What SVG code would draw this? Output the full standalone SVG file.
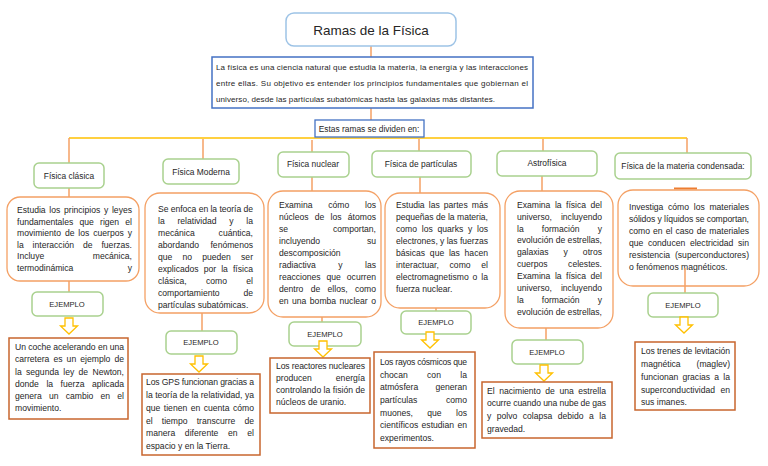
<svg xmlns="http://www.w3.org/2000/svg" width="768" height="466" viewBox="0 0 768 466">
<style>
text{font-family:"Liberation Sans",Arial,sans-serif;fill:#262626;}
.t{font-size:8.6px;}
.i{font-size:8px;}
.h{font-size:8.4px;text-anchor:middle;}
.e{font-size:7.6px;text-anchor:middle;}
.hdr{fill:#fff;stroke:#a9d18e;stroke-width:1.5;}
.ds{fill:#fff;stroke:#f4a064;stroke-width:1.3;}
.ex{fill:#fff;stroke:#c8662e;stroke-width:1.5;}
.ln{stroke:#f4a064;stroke-width:1.5;fill:none;}
.arr{fill:#fff;stroke:#ffc000;stroke-width:1.3;}
</style>
<defs>
<path id="dn" d="M-4,0 H4 V8 H8.5 L0,16 L-8.5,8 H-4 Z"/>
</defs>
<rect width="768" height="466" fill="#fff"/>

<g id="connectors">
<line class="ln" x1="371" y1="46" x2="371" y2="57"/>
<line class="ln" x1="371" y1="108" x2="371" y2="120"/>
<line x1="69" y1="138" x2="687" y2="138" stroke="#ffc000" stroke-width="1.5"/>
<line class="ln" x1="69" y1="138" x2="69" y2="163"/>
<line class="ln" x1="203" y1="139" x2="203" y2="159"/>
<line class="ln" x1="312" y1="140" x2="312" y2="152"/>
<line class="ln" x1="419" y1="139" x2="419" y2="151"/>
<line class="ln" x1="543" y1="139" x2="543" y2="151"/>
<line class="ln" x1="687" y1="138" x2="687" y2="153"/>
<line class="ln" x1="69" y1="188" x2="69" y2="197"/>
<line class="ln" x1="312" y1="177" x2="312" y2="191"/>
<line class="ln" x1="420" y1="177" x2="420" y2="193"/>
<line class="ln" x1="542" y1="176" x2="542" y2="191"/>
<line x1="674" y1="188.5" x2="697" y2="188.5" stroke="#ed7d31" stroke-width="2"/>
<line class="ln" x1="69" y1="281" x2="69" y2="292"/>
<line class="ln" x1="202" y1="313" x2="202" y2="331"/>
<line class="ln" x1="322" y1="317" x2="322" y2="322"/>
<line class="ln" x1="436" y1="308" x2="436" y2="311"/>
<line class="ln" x1="546" y1="323" x2="546" y2="340"/>
</g>

<g id="title">
<rect x="286" y="13" width="170" height="33" rx="8" fill="#fff" stroke="#9dc3e6" stroke-width="1.5"/>
<text x="371" y="35" style="font-size:13.5px;text-anchor:middle">Ramas de la Física</text>
</g>

<g id="intro">
<rect x="212" y="57" width="321" height="51" fill="#fff" stroke="#4472c4" stroke-width="1.5"/>
<text class="i" x="216" y="70" textLength="312" lengthAdjust="spacing">La física es una ciencia natural que estudia la materia, la energía y las interacciones</text>
<text class="i" x="216" y="86" textLength="312" lengthAdjust="spacing">entre ellas. Su objetivo es entender los principios fundamentales que gobiernan el</text>
<text class="i" x="216" y="102" textLength="279" lengthAdjust="spacing">universo, desde las partículas subatómicas hasta las galaxias más distantes.</text>
</g>

<g id="divide">
<rect x="315" y="120" width="109" height="17" fill="#fff" stroke="#4472c4" stroke-width="1.3"/>
<text class="h" x="369" y="132">Estas ramas se dividen en:</text>
</g>

<!-- Column 1 -->
<g id="clasica">
<rect class="hdr" x="34" y="163" width="70" height="25" rx="5"/>
<text class="h" x="69" y="179">Física clásica</text>
</g>
<g id="clasica-desc">
<rect class="ds" x="7" y="197" width="132" height="84" rx="13"/>
<text class="t" x="17" y="213" style="word-spacing:1.3px" textLength="115" lengthAdjust="spacing">Estudia los principios y leyes</text>
<text class="t" x="17" y="225" style="word-spacing:3.8px" textLength="115" lengthAdjust="spacing">fundamentales que rigen el</text>
<text class="t" x="17" y="236" style="word-spacing:1.5px" textLength="115" lengthAdjust="spacing">movimiento de los cuerpos y</text>
<text class="t" x="17" y="248" style="word-spacing:6.5px" textLength="115" lengthAdjust="spacing">la interacción de fuerzas.</text>
<text class="t" x="17" y="259">Incluye</text><text class="t" x="132" y="259" text-anchor="end">mecánica,</text>
<text class="t" x="17" y="271">termodinámica</text><text class="t" x="132" y="271" text-anchor="end">y</text>
</g>
<g id="clasica-ej">
<rect class="hdr" x="32" y="292" width="71" height="24" rx="5"/>
<text class="e" x="67" y="307">EJEMPLO</text>
<use href="#dn" class="arr" transform="translate(69,318)"/>
</g>
<g id="clasica-ex">
<rect class="ex" x="9" y="338" width="119" height="81"/>
<text class="t" x="15" y="350" textLength="109" lengthAdjust="spacing">Un coche acelerando en una</text>
<text class="t" x="15" y="362" style="word-spacing:1.7px" textLength="109" lengthAdjust="spacing">carretera es un ejemplo de</text>
<text class="t" x="15" y="375" style="word-spacing:1.9px" textLength="109" lengthAdjust="spacing">la segunda ley de Newton,</text>
<text class="t" x="15" y="387" style="word-spacing:5.1px" textLength="109" lengthAdjust="spacing">donde la fuerza aplicada</text>
<text class="t" x="15" y="399" style="word-spacing:4.8px" textLength="109" lengthAdjust="spacing">genera un cambio en el</text>
<text class="t" x="15" y="411">movimiento.</text>
</g>

<!-- Column 2 -->
<g id="moderna">
<rect class="hdr" x="163" y="159" width="76" height="25" rx="5"/>
<text class="h" x="201" y="175">Física Moderna</text>
</g>
<g id="moderna-desc">
<rect class="ds" x="145" y="193" width="119" height="120" rx="15"/>
<text class="t" x="158" y="212" textLength="95" lengthAdjust="spacing">Se enfoca en la teoría de</text>
<text class="t" x="158" y="224" style="word-spacing:10.3px" textLength="95" lengthAdjust="spacing">la relatividad y la</text>
<text class="t" x="158" y="236">mecánica</text><text class="t" x="253" y="236" text-anchor="end">cuántica,</text>
<text class="t" x="158" y="248">abordando</text><text class="t" x="253" y="248" text-anchor="end">fenómenos</text>
<text class="t" x="158" y="260" style="word-spacing:7.8px" textLength="95" lengthAdjust="spacing">que no pueden ser</text>
<text class="t" x="158" y="272" style="word-spacing:2.7px" textLength="95" lengthAdjust="spacing">explicados por la física</text>
<text class="t" x="158" y="284" style="word-spacing:16.9px" textLength="95" lengthAdjust="spacing">clásica, como el</text>
<text class="t" x="158" y="296">comportamiento</text><text class="t" x="253" y="296" text-anchor="end">de</text>
<text class="t" x="158" y="308">partículas subatómicas.</text>
</g>
<g id="moderna-ej">
<rect class="hdr" x="166" y="331" width="71" height="23" rx="5"/>
<text class="e" x="201" y="345">EJEMPLO</text>
<use href="#dn" class="arr" transform="translate(199,356)"/>
</g>
<g id="moderna-ex">
<rect class="ex" x="142" y="374" width="118" height="81"/>
<text class="t" x="146" y="385" textLength="108" lengthAdjust="spacing">Los GPS funcionan gracias a</text>
<text class="t" x="146" y="398" textLength="108" lengthAdjust="spacing">la teoría de la relatividad, ya</text>
<text class="t" x="146" y="411" style="word-spacing:1.1px" textLength="108" lengthAdjust="spacing">que tienen en cuenta cómo</text>
<text class="t" x="146" y="424" style="word-spacing:6.7px" textLength="108" lengthAdjust="spacing">el tiempo transcurre de</text>
<text class="t" x="146" y="436" style="word-spacing:7.3px" textLength="108" lengthAdjust="spacing">manera diferente en el</text>
<text class="t" x="146" y="449">espacio y en la Tierra.</text>
</g>

<!-- Column 3 -->
<g id="nuclear">
<rect class="hdr" x="278" y="152" width="71" height="25" rx="5"/>
<text class="h" x="313" y="167">Física nuclear</text>
</g>
<g id="nuclear-desc">
<rect class="ds" x="268" y="191" width="113" height="126" rx="15"/>
<text class="t" x="279" y="208" style="word-spacing:13.4px" textLength="97" lengthAdjust="spacing">Examina cómo los</text>
<text class="t" x="279" y="220" style="word-spacing:3.8px" textLength="97" lengthAdjust="spacing">núcleos de los átomos</text>
<text class="t" x="279" y="232">se</text><text class="t" x="376" y="232" text-anchor="end">comportan,</text>
<text class="t" x="279" y="244">incluyendo</text><text class="t" x="376" y="244" text-anchor="end">su</text>
<text class="t" x="279" y="256">descomposición</text>
<text class="t" x="279" y="268" style="word-spacing:20px" textLength="97" lengthAdjust="spacing">radiactiva y las</text>
<text class="t" x="279" y="280" style="word-spacing:3.5px" textLength="97" lengthAdjust="spacing">reacciones que ocurren</text>
<text class="t" x="279" y="292" style="word-spacing:4.9px" textLength="97" lengthAdjust="spacing">dentro de ellos, como</text>
<text class="t" x="279" y="304" style="word-spacing:1.1px" textLength="97" lengthAdjust="spacing">en una bomba nuclear o</text>
</g>
<g id="nuclear-ej">
<rect class="hdr" x="289" y="322" width="72" height="24" rx="5"/>
<text class="e" x="325" y="337">EJEMPLO</text>
<use href="#dn" class="arr" transform="translate(323,341)"/>
</g>
<g id="nuclear-ex">
<rect class="ex" x="270" y="358" width="100" height="55"/>
<text class="t" x="276" y="369" textLength="89" lengthAdjust="spacing">Los reactores nucleares</text>
<text class="t" x="276" y="381">producen</text><text class="t" x="365" y="381" text-anchor="end">energía</text>
<text class="t" x="276" y="393" textLength="89" lengthAdjust="spacing">controlando la fisión de</text>
<text class="t" x="276" y="405">núcleos de uranio.</text>
</g>

<!-- Column 4 -->
<g id="particulas">
<rect class="hdr" x="372" y="151" width="99" height="26" rx="5"/>
<text class="h" x="421" y="167">Física de partículas</text>
</g>
<g id="particulas-desc">
<rect class="ds" x="385" y="193" width="115" height="115" rx="15"/>
<text class="t" x="396" y="208" style="word-spacing:1.7px" textLength="92" lengthAdjust="spacing">Estudia las partes más</text>
<text class="t" x="396" y="220" textLength="92" lengthAdjust="spacing">pequeñas de la materia,</text>
<text class="t" x="396" y="232" style="word-spacing:2.3px" textLength="92" lengthAdjust="spacing">como los quarks y los</text>
<text class="t" x="396" y="244" textLength="92" lengthAdjust="spacing">electrones, y las fuerzas</text>
<text class="t" x="396" y="256" style="word-spacing:2.3px" textLength="92" lengthAdjust="spacing">básicas que las hacen</text>
<text class="t" x="396" y="268" style="word-spacing:8.2px" textLength="92" lengthAdjust="spacing">interactuar, como el</text>
<text class="t" x="396" y="280" style="word-spacing:1.5px" textLength="92" lengthAdjust="spacing">electromagnetismo o la</text>
<text class="t" x="396" y="292">fuerza nuclear.</text>
</g>
<g id="particulas-ej">
<rect class="hdr" x="401" y="311" width="70" height="23" rx="5"/>
<text class="e" x="436" y="325">EJEMPLO</text>
<use href="#dn" class="arr" transform="translate(430,332)"/>
</g>
<g id="particulas-ex">
<rect class="ex" x="374" y="352" width="101" height="96"/>
<text class="t" x="380" y="365" textLength="87" lengthAdjust="spacing">Los rayos cósmicos que</text>
<text class="t" x="380" y="378" style="word-spacing:17px" textLength="87" lengthAdjust="spacing">chocan con la</text>
<text class="t" x="380" y="390">atmósfera</text><text class="t" x="467" y="390" text-anchor="end">generan</text>
<text class="t" x="380" y="403">partículas</text><text class="t" x="467" y="403" text-anchor="end">como</text>
<text class="t" x="380" y="416" style="word-spacing:12px" textLength="87" lengthAdjust="spacing">muones, que los</text>
<text class="t" x="380" y="428" style="word-spacing:1px" textLength="87" lengthAdjust="spacing">científicos estudian en</text>
<text class="t" x="380" y="441">experimentos.</text>
</g>

<!-- Column 5 -->
<g id="astrofisica">
<rect class="hdr" x="497" y="151" width="100" height="25" rx="5"/>
<text class="h" x="547" y="166">Astrofísica</text>
</g>
<g id="astrofisica-desc">
<rect class="ds" x="505" y="191" width="108" height="137" rx="15"/>
<text class="t" x="517" y="208" style="word-spacing:2.1px" textLength="85" lengthAdjust="spacing">Examina la física del</text>
<text class="t" x="517" y="220" style="word-spacing:6.6px" textLength="85" lengthAdjust="spacing">universo, incluyendo</text>
<text class="t" x="517" y="232" style="word-spacing:15.7px" textLength="85" lengthAdjust="spacing">la formación y</text>
<text class="t" x="517" y="243" textLength="85" lengthAdjust="spacing">evolución de estrellas,</text>
<text class="t" x="517" y="255" style="word-spacing:12.6px" textLength="85" lengthAdjust="spacing">galaxias y otros</text>
<text class="t" x="517" y="267">cuerpos</text><text class="t" x="602" y="267" text-anchor="end">celestes.</text>
<text class="t" x="517" y="279" style="word-spacing:2.1px" textLength="85" lengthAdjust="spacing">Examina la física del</text>
<text class="t" x="517" y="291" style="word-spacing:6.6px" textLength="85" lengthAdjust="spacing">universo, incluyendo</text>
<text class="t" x="517" y="303" style="word-spacing:15.7px" textLength="85" lengthAdjust="spacing">la formación y</text>
<text class="t" x="517" y="315" textLength="85" lengthAdjust="spacing">evolución de estrellas,</text>
</g>
<g id="astrofisica-ej">
<rect class="hdr" x="512" y="340" width="71" height="24" rx="5"/>
<text class="e" x="547" y="355">EJEMPLO</text>
<use href="#dn" class="arr" transform="translate(544,365)"/>
</g>
<g id="astrofisica-ex">
<rect class="ex" x="482" y="382" width="130" height="56"/>
<text class="t" x="487" y="394" style="word-spacing:2.1px" textLength="119" lengthAdjust="spacing">El nacimiento de una estrella</text>
<text class="t" x="487" y="406" textLength="119" lengthAdjust="spacing">ocurre cuando una nube de gas</text>
<text class="t" x="487" y="419" style="word-spacing:3.1px" textLength="119" lengthAdjust="spacing">y polvo colapsa debido a la</text>
<text class="t" x="487" y="432">gravedad.</text>
</g>

<!-- Column 6 -->
<g id="condensada">
<rect class="hdr" x="615" y="153" width="136" height="26" rx="5"/>
<text class="h" x="683" y="169">Física de la materia condensada:</text>
</g>
<g id="condensada-desc">
<rect class="ds" x="618" y="190" width="141" height="96" rx="15"/>
<text class="t" x="629" y="210" style="word-spacing:2.3px" textLength="120" lengthAdjust="spacing">Investiga cómo los materiales</text>
<text class="t" x="629" y="222" textLength="120" lengthAdjust="spacing">sólidos y líquidos se comportan,</text>
<text class="t" x="629" y="234" style="word-spacing:0.7px" textLength="120" lengthAdjust="spacing">como en el caso de materiales</text>
<text class="t" x="629" y="246" style="word-spacing:2.3px" textLength="120" lengthAdjust="spacing">que conducen electricidad sin</text>
<text class="t" x="629" y="258">resistencia</text><text class="t" x="749" y="258" text-anchor="end">(superconductores)</text>
<text class="t" x="629" y="270">o fenómenos magnéticos.</text>
</g>
<line class="ln" x1="685" y1="268" x2="685" y2="293"/>
<g id="condensada-ej">
<rect class="hdr" x="648" y="293" width="70" height="24" rx="5"/>
<text class="e" x="683" y="308">EJEMPLO</text>
<use href="#dn" class="arr" transform="translate(684,317)"/>
</g>
<g id="condensada-ex">
<rect class="ex" x="635" y="342" width="100" height="68"/>
<text class="t" x="641" y="354" textLength="89" lengthAdjust="spacing">Los trenes de levitación</text>
<text class="t" x="641" y="367">magnética</text><text class="t" x="730" y="367" text-anchor="end">(maglev)</text>
<text class="t" x="641" y="380" style="word-spacing:1.8px" textLength="89" lengthAdjust="spacing">funcionan gracias a la</text>
<text class="t" x="641" y="393" style="word-spacing:3px" textLength="89" lengthAdjust="spacing">superconductividad en</text>
<text class="t" x="641" y="405">sus imanes.</text>
</g>
</svg>
